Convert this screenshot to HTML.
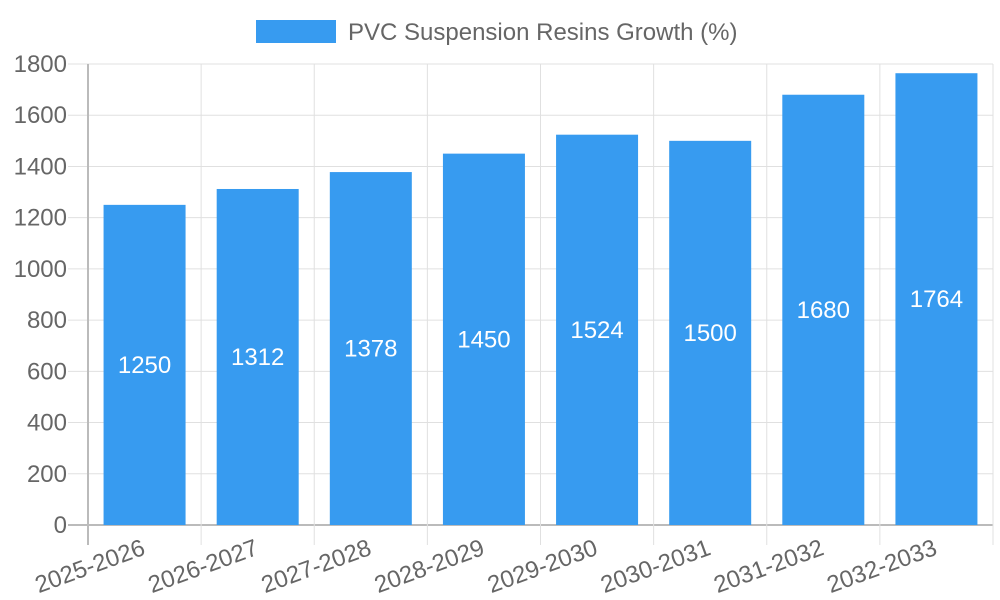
<!DOCTYPE html>
<html><head><meta charset="utf-8"><style>
body{margin:0;background:#fff;}
svg{display:block;font-family:"Liberation Sans",sans-serif;}
</style></head><body>
<svg id="chart" width="1000" height="600">
<rect x="256" y="20" width="80" height="23" fill="#379bf0"/>
<text x="348" y="40" font-size="24" fill="#666">PVC Suspension Resins Growth (%)</text>
<g id="grid"></g><g id="bars"></g><g id="labels"></g>
</svg>
<script>
const categories=["2025-2026","2026-2027","2027-2028","2028-2029","2029-2030","2030-2031","2031-2032","2032-2033"];
const values=[1250,1312,1378,1450,1524,1500,1680,1764];
const yTicks=[0,200,400,600,800,1000,1200,1400,1600,1800];
const NS="http://www.w3.org/2000/svg";
const L=88,R=993,T=64,B=525,yMax=1800;
const bw=(R-L)/categories.length;
const y=v=>B-(v/yMax)*(B-T);
const x=i=>L+i*bw;
function mk(tag,attrs,parent){const e=document.createElementNS(NS,tag);for(const k in attrs)e.setAttribute(k,attrs[k]);parent.appendChild(e);return e;}
const grid=document.getElementById('grid'),bars=document.getElementById('bars'),labels=document.getElementById('labels');
yTicks.forEach(t=>{
  const g=mk('line',{x1:68,x2:R,y1:y(t),y2:y(t),stroke:t===0?'#bbb':'#e0e0e0','stroke-width':t===0?2:1},grid);
  
  
  const tx=mk('text',{x:67,y:y(t)+8,'text-anchor':'end','font-size':24,fill:'#666'},grid);
  tx.textContent=t;
  
  
});
for(let i=0;i<=categories.length;i++){
  const l=mk('line',{x1:x(i),x2:x(i),y1:T,y2:B+20,stroke:i===0?'#bbb':'#e0e0e0','stroke-width':i===0?2:1},grid);
  
  
}
categories.forEach((c,i)=>{
  const cx=x(i)+bw/2,w=82;
  const r=mk('rect',{x:cx-w/2,y:y(values[i]),width:w,height:B-y(values[i]),fill:'#379bf0'},bars);
  
  
  const v=mk('text',{x:cx,y:(y(values[i])+B)/2+8,'text-anchor':'middle','font-size':24,fill:'#fff'},labels);
  v.textContent=values[i];
  
  
  const t=mk('text',{transform:`translate(${cx+2},554) rotate(-20)`,'text-anchor':'end','font-size':24,fill:'#666'},labels);
  t.textContent=c;
  
  
});
</script>
</body></html>
